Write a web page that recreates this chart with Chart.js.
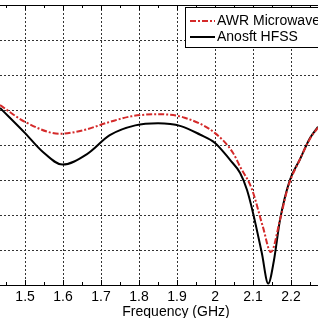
<!DOCTYPE html>
<html lang="en">
<head>
    <meta charset="UTF-8">
    <title>S11 comparison</title>
    <style>
        body { margin: 0; background: #fff; }
        .wrap { width: 318px; height: 318px; }
    </style>
</head>
<body>
    <div class="wrap"><canvas id="s11Chart" width="318" height="318"></canvas></div>

    <script src="https://cdn.jsdelivr.net/npm/chart.js"></script>
    <script>
        // values (frequency in GHz, S11 in dB)
        const xTicks = [1.5, 1.6, 1.7, 1.8, 1.9, 2.0, 2.1, 2.2];
        const seriesNames = ['AWR Microwave', 'Anosft HFSS'];

        const awrFreq = [1.434, 1.5, 1.592, 1.652, 1.723, 1.78, 1.85, 1.92, 2.0, 2.047, 2.066, 2.097, 2.126, 2.147, 2.171, 2.192, 2.223, 2.25, 2.271];
        const awrS11 = [-14.3, -16.7, -18.4, -17.9, -16.7, -15.9, -15.6, -16.1, -18.3, -21.1, -23.1, -26.3, -31.7, -35.3, -30.7, -26.0, -22.1, -19.1, -17.5];

        const hfssFreq = [1.434, 1.5, 1.547, 1.598, 1.663, 1.723, 1.79, 1.85, 1.91, 1.96, 2.0, 2.039, 2.066, 2.084, 2.1, 2.123, 2.14, 2.155, 2.171, 2.197, 2.223, 2.25, 2.271];
        const hfssS11 = [-14.7, -18.3, -21.0, -22.8, -21.3, -18.6, -17.2, -16.9, -17.3, -18.5, -19.7, -22.1, -24.0, -26.4, -29.7, -35.4, -39.8, -36.5, -30.7, -25.0, -22.1, -19.0, -17.4];

        const FONT = '"Liberation Sans", Arial, sans-serif';
        const RED = '#d42a2a';
        const RED_DASH = [6, 2, 2, 2];

        const toPoints = (xs, ys) => xs.map((x, i) => ({ x: x, y: ys[i] }));

        // frame, inward ticks, axis title and boxed legend
        const extras = {
            id: 'extras',
            afterDraw(chart) {
                const { ctx, chartArea: a, scales: { x } } = chart;
                ctx.save();
                ctx.strokeStyle = '#000';
                ctx.lineWidth = 1;
                ctx.beginPath();
                ctx.moveTo(a.left, a.top + 0.5);
                ctx.lineTo(a.right, a.top + 0.5);
                ctx.stroke();

                // minor / major tick marks pointing inward
                for (let v = 1.45; v < 2.3; v += 0.05) {
                    const px = Math.round(x.getPixelForValue(v)) + 0.5;
                    if (px < a.left || px > a.right) continue;
                    const major = Math.abs(v * 10 - Math.round(v * 10)) < 1e-6;
                    const len = major ? 5 : 3;
                    ctx.beginPath();
                    ctx.moveTo(px, a.bottom);
                    ctx.lineTo(px, a.bottom - len);
                    ctx.moveTo(px, a.top);
                    ctx.lineTo(px, a.top + len);
                    ctx.stroke();
                }

                // axis title
                ctx.fillStyle = '#000';
                ctx.font = '14px ' + FONT;
                ctx.textAlign = 'center';
                ctx.textBaseline = 'alphabetic';
                ctx.fillText('Frequency (GHz)', 176, 316);

                // legend box
                const bx = 185, by = 7, bw = 140, bh = 40;
                ctx.fillStyle = '#fff';
                ctx.fillRect(bx, by, bw, bh);
                ctx.strokeRect(bx + 0.5, by + 0.5, bw, bh);

                const rows = [
                    { y: 21, ds: chart.data.datasets[0] },
                    { y: 37, ds: chart.data.datasets[1] }
                ];
                rows.forEach(r => {
                    ctx.strokeStyle = r.ds.borderColor;
                    ctx.lineWidth = 2;
                    ctx.setLineDash(r.ds.borderDash || []);
                    ctx.beginPath();
                    ctx.moveTo(190, r.y);
                    ctx.lineTo(215, r.y);
                    ctx.stroke();
                    ctx.setLineDash([]);
                    ctx.fillStyle = '#000';
                    ctx.textAlign = 'left';
                    ctx.textBaseline = 'middle';
                    ctx.fillText(r.ds.label, 217, r.y);
                });
                ctx.restore();
            }
        };

        new Chart(document.getElementById('s11Chart'), {
            type: 'line',
            data: {
                datasets: [
                    {
                        label: seriesNames[0],
                        data: toPoints(awrFreq, awrS11),
                        borderColor: RED,
                        borderDash: RED_DASH,
                        borderWidth: 2,
                        pointRadius: 0,
                        cubicInterpolationMode: 'monotone',
                        fill: false
                    },
                    {
                        label: seriesNames[1],
                        data: toPoints(hfssFreq, hfssS11),
                        borderColor: '#000',
                        borderWidth: 2,
                        pointRadius: 0,
                        cubicInterpolationMode: 'monotone',
                        fill: false
                    }
                ]
            },
            options: {
                responsive: false,
                animation: false,
                layout: { padding: { top: 5, left: 0, right: 0, bottom: 0 } },
                plugins: {
                    legend: { display: false },
                    tooltip: { enabled: false }
                },
                scales: {
                    x: {
                        type: 'linear',
                        min: 1.434,
                        max: 2.271,
                        afterBuildTicks: (scale) => {
                            scale.ticks = xTicks.map(v => ({ value: v }));
                        },
                        afterFit: (scale) => { scale.height = 33; },
                        grid: { color: '#333', lineWidth: 1, drawTicks: false },
                        border: { display: true, color: '#000', width: 1, dash: [2, 2] },
                        ticks: {
                            color: '#000',
                            padding: 4,
                            maxRotation: 0,
                            font: { family: FONT, size: 14 },
                            callback: (v) => String(Math.round(v * 10) / 10)
                        }
                    },
                    y: {
                        min: -40,
                        max: 0,
                        ticks: { display: false, stepSize: 5 },
                        grid: { color: '#333', lineWidth: 1, drawTicks: false },
                        border: { display: false, dash: [2, 2] }
                    }
                }
            },
            plugins: [extras]
        });
    </script>
</body>
</html>
